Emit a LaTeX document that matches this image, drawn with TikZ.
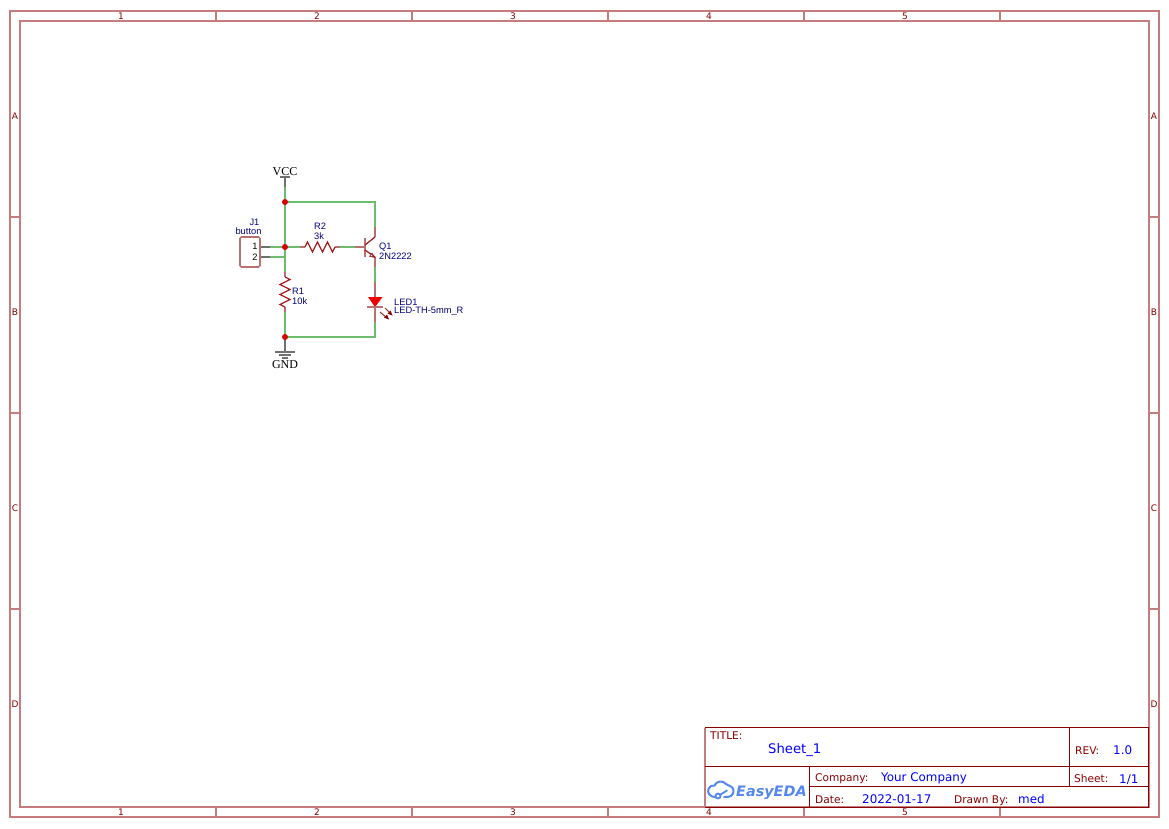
\documentclass[tikz,border=0pt]{standalone}
\usepackage{fontspec}
\setmainfont{DejaVu Sans}
\newfontfamily\lab{Liberation Sans}
\newfontfamily\netf{Liberation Serif}
\newfontfamily\logof{DejaVu Sans}
\usetikzlibrary{calc}
\definecolor{frm}{HTML}{880000}
\definecolor{frmsoft}{HTML}{C47C7C}
\definecolor{wirec}{HTML}{6CBC6C}
\definecolor{pinc}{HTML}{B87070}
\definecolor{symc}{HTML}{A82020}
\definecolor{stubc}{HTML}{707070}
\definecolor{lblc}{HTML}{000080}
\definecolor{valc}{HTML}{0000FF}
\definecolor{logoc}{HTML}{5588EE}
\tikzset{
  x=1pt,y=-1pt,
  frameline/.style={draw=frmsoft,line width=1.7pt},
  tbline/.style={draw=frm,line width=1pt},
  wire/.style={draw=wirec,line width=1.8pt,line join=miter},
  pin/.style={draw=pinc,line width=1.8pt},
  stub/.style={draw=stubc,line width=1.7pt},
  sym/.style={draw=symc,line width=1.3pt,line join=miter},
  tick/.style={text=frm,font=\fontsize{9}{9}\selectfont,inner sep=0pt},
  desig/.style={text=lblc,font=\lab\fontsize{9.3}{9.3}\selectfont,inner sep=0pt,anchor=west},
  desigc/.style={text=lblc,font=\lab\fontsize{9.3}{9.3}\selectfont,inner sep=0pt},
  pinnum/.style={text=black,font=\lab\fontsize{9.3}{9.3}\selectfont,inner sep=0pt},
  netn/.style={text=black,font=\netf\fontsize{12}{12}\selectfont,inner sep=0pt},
  tblab/.style={text=frm,font=\fontsize{10.6}{10.6}\selectfont,inner sep=0pt,anchor=base west},
  tbval/.style={text=valc,font=\fontsize{11.9}{12}\selectfont,inner sep=0pt,anchor=base west},
  junc/.style={circle,fill=red!85!black,draw=none,minimum size=6pt,inner sep=0pt},
}
\begin{document}
\begin{tikzpicture}
\useasboundingbox (0,0) rectangle (1169,828);
\fill[white] (0,0) rectangle (1169,828);
% frames
\draw[frameline] (10,11) rectangle (1159,817);
\draw[frameline] (20,21) rectangle (1149,807);
\foreach \x in {216,412,608,804,1000} {
  \draw[frameline] (\x,11) -- (\x,21);
  \draw[frameline] (\x,807) -- (\x,817);
}
\foreach \y in {217,413,609} {
  \draw[frameline] (10,\y) -- (20,\y);
  \draw[frameline] (1149,\y) -- (1159,\y);
}
\foreach \x/\t [count=\i] in {121/1,317/2,513/3,709/4,905/5} {
  \node[tick] (tt\i) at (\x,16) {\t};
  \node[tick] (tb\i) at (\x,812.5) {\t};
}
\foreach \y/\t [count=\i] in {116/A,312/B,508/C,704/D} {
  \node[tick] (tl\i) at (15,\y) {\t};
  \node[tick] (tr\i) at (1154,\y) {\t};
}
% title block
\draw[draw=frmsoft,line width=1.7pt] (705,727.5) -- (705,807);
\draw[tbline] (705,727.5) -- (1148.5,727.5);
\draw[tbline] (1148.5,727.5) -- (1148.5,807.5) -- (705,807.5);
\draw[tbline] (705,766.5) -- (1148.5,766.5);
\draw[tbline] (809.5,786.5) -- (1148.5,786.5);
\draw[tbline] (809.5,766.5) -- (809.5,807.5);
\draw[tbline] (1069.5,727.5) -- (1069.5,786.5);
\node[tblab] (ttl) at (710,739) {TITLE:};
\node[tbval,font=\fontsize{13.2}{14}\selectfont] (sheetname) at (768,753) {Sheet\_1};
\node[tblab] (rev) at (1075,754) {REV:};
\node[tbval] (revv) at (1113,754) {1.0};
\node[tblab] (comp) at (815,781) {Company:};
\node[tbval] (compv) at (881,781) {Your Company};
\node[tblab] (sht) at (1074,782) {Sheet:};
\node[tbval] (shtv) at (1119,783) {1/1};
\node[tblab] (dt) at (815,803) {Date:};
\node[tbval] (dtv) at (862,803) {2022-01-17};
\node[tblab] (drw) at (954,803) {Drawn By:};
\node[tbval] (drwv) at (1018,803) {med};
% logo
\draw[logoc,line width=2pt,line cap=round,line join=round]
  (715,797) .. controls (710,797) and (707,793) .. (708.5,789)
  .. controls (709.5,786) and (712,785) .. (714.5,785.5)
  .. controls (716,781) and (723,780) .. (726,784)
  .. controls (727,785) and (729,785) .. (730,786)
  .. controls (734,787) and (735,793) .. (731,796)
  .. controls (729,797) and (727,797) .. (724,797);
\draw[logoc,line width=1.8pt] (718,796) circle (2.5);
\draw[logoc,line width=1.8pt,line cap=round] (720.5,794.5) -- (727,790.5);
\node[inner sep=0pt,anchor=base west,text=logoc,font=\logof\bfseries\itshape\fontsize{14.4}{16}\selectfont] (logo) at (736,796) {EasyEDA};
% schematic coordinates
\coordinate (vcctop) at (285,177);
\coordinate (vccpin) at (285,187);
\coordinate (j1) at (285,202);
\coordinate (j2) at (285,247);
\coordinate (j3) at (285,337);
\coordinate (gndpin) at (285,352);
\coordinate (p1a) at (260,247);
\coordinate (p1b) at (270,247);
\coordinate (p2a) at (260,257);
\coordinate (p2b) at (270,257);
\coordinate (c285) at (285,257);
\coordinate (r1t) at (285,272);
\coordinate (r1a) at (285,277);
\coordinate (r1b) at (285,307);
\coordinate (r1e) at (285,312);
\coordinate (r2s) at (300,247);
\coordinate (r2a) at (305,247);
\coordinate (r2b) at (335,247);
\coordinate (r2e) at (340,247);
\coordinate (qb0) at (355,247);
\coordinate (qb) at (365,247);
\coordinate (qc1) at (375,202);
\coordinate (qc2) at (375,227);
\coordinate (qc3) at (375,237);
\coordinate (qe3) at (375,257);
\coordinate (qe2) at (375,267);
\coordinate (ledt0) at (375,282);
\coordinate (ledt) at (375,297);
\coordinate (ledb) at (375,307);
\coordinate (ledb0) at (375,322);
\coordinate (ledc) at (375,337);
% wires
\draw[wire] (vccpin) -- (j1) -- (j2) -- (c285) -- (r1t);
\draw[wire] (j1) -- (qc1) -- (qc2);
\draw[wire] (p1b) -- (j2) -- (r2s);
\draw[wire] (p2b) -- (c285);
\draw[wire] (r2e) -- (qb0);
\draw[wire] (qe2) -- (ledt0);
\draw[wire] (ledb0) -- (ledc) -- (j3);
\draw[wire] (r1e) -- (j3);
% pins and stubs
\draw[stub] (vcctop) -- (vccpin);
\draw[stub] (j3) -- (gndpin);
\draw[stub] (p1a) -- (p1b);
\draw[stub] (p2a) -- (p2b);
\draw[pin] (r1t) -- (r1a);
\draw[pin] (r1b) -- (r1e);
\draw[pin] (r2s) -- (r2a);
\draw[pin] (r2b) -- (r2e);
\draw[pin] (qb0) -- (qb);
\draw[pin] (qc2) -- (qc3);
\draw[pin] (qe3) -- (qe2);
\draw[pin] (ledt0) -- (ledt);
\draw[pin] (ledb) -- (ledb0);
% junctions
\node[junc] (jd1) at (j1) {};
\node[junc] (jd2) at (j2) {};
\node[junc] (jd3) at (j3) {};
% VCC / GND
\draw[stub] (280,177) -- (290,177);
\node[netn] (vcc) at (285,171.5) {VCC};
\draw[stub,line width=1.2pt] (275,352) -- (295,352);
\draw[stub,line width=1.2pt] (279,355) -- (291,355);
\draw[stub,line width=1.2pt] (282,358) -- (288,358);
\node[netn] (gnd) at (285,364.5) {GND};
% J1
\draw[draw=pinc,line width=1.7pt,rounded corners=1.5pt] (240,237) rectangle (260,267);
\node[pinnum] (pn1) at (255,246.5) {1};
\node[pinnum] (pn2) at (255,257) {2};
\node[desigc] (j1n) at (254.5,222.5) {J1};
\node[desigc] (j1v) at (248.5,231) {button};
% R2
\draw[sym] (r2a) -- (307.5,242) -- (312.5,252) -- (317.5,242) -- (322.5,252) -- (327.5,242) -- (332.5,252) -- (r2b);
\node[desigc] (r2n) at (320,226.5) {R2};
\node[desigc] (r2v) at (319,236) {3k};
% R1
\draw[sym] (r1a) -- (290,279.5) -- (280,284.5) -- (290,289.5) -- (280,294.5) -- (290,299.5) -- (280,304.5) -- (r1b);
\node[desig] (r1n) at (292,291.5) {R1};
\node[desig] (r1v) at (292,301) {10k};
% Q1
\draw[draw=pinc,line width=1.7pt] (365,238) -- (365,257);
\draw[sym] (365,245) -- (qc3);
\draw[sym] (365,250) -- (qe3);
\fill[symc] (375.5,258) -- (369,256.5) -- (372,252.5) -- cycle;
\fill[white] (371.5,255.5) circle (.9);
\node[desig] (q1n) at (379,247.5) {Q1};
\node[desig] (q1v) at (379,256.5) {2N2222};
% LED
\fill[red!95!black] (368,297) -- (382.5,297) -- (375,307) -- cycle;
\draw[draw=pinc,line width=1.7pt] (367,307) -- (383,307);
\draw[sym,line width=1pt] (385,308) -- (391,314);
\draw[sym,line width=1pt] (380,312) -- (387,318);
\fill[frm] (392.5,315.5) -- (387.5,313.5) -- (390.5,310.5) -- cycle;
\fill[frm] (389,319.5) -- (384,317.5) -- (387,314.5) -- cycle;
\node[desig] (ledn) at (394,302.5) {LED1};
\node[desig] (ledv) at (394,311.5) {LED-TH-5mm\_R};
\end{tikzpicture}
\end{document}
